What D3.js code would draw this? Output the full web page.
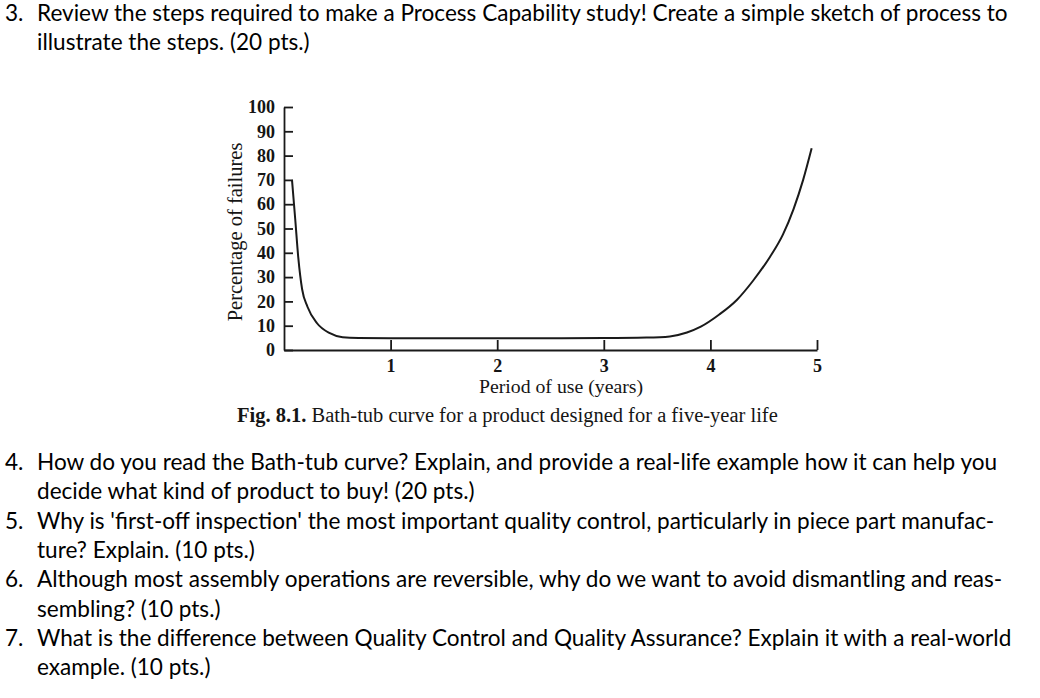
<!DOCTYPE html>
<html lang="en">
<head>
<meta charset="UTF-8">
<script src="https://d3js.org/d3.v7.min.js"></script>
<style>
	body { margin: 0; background: #fff; }
	.serif { font-family: "Liberation Serif", "DejaVu Serif", serif; fill: #151515; }
	.sans { font-family: Lato, "Open Sans", sans-serif; fill: #000; }
</style>
<title>Bath-tub curve</title>
</head>
<body>
<div id="page"></div>
<script>
// chart values
const yTicks = [0, 10, 20, 30, 40, 50, 60, 70, 80, 90, 100];
const xTicks = [1, 2, 3, 4, 5];
const years = [0.075, 0.105, 0.134, 0.17, 0.22, 0.31, 0.43, 0.55, 0.7, 1.0, 2.0, 3.0, 3.4, 3.62, 3.78, 3.91, 4.08, 4.25, 4.4, 4.56, 4.68, 4.78, 4.87, 4.95];
const failures = [70, 54, 38, 25, 17.8, 11, 6.9, 5.2, 4.9, 4.8, 4.8, 4.9, 5.1, 5.6, 7.2, 9.6, 14.5, 20.7, 28.5, 38.4, 47.5, 58, 70, 83];
const yTitle = "Percentage of failures";
const xTitle = "Period of use (years)";
const captionLabel = "Fig. 8.1.";
const captionText = "Bath-tub curve for a product designed for a five-year life";

// question text around the figure
const topNumbers = ["3."];
const topLines = [
	["Review the steps required to make a Process Capability study! Create a simple sketch of process to",
	 "illustrate the steps. (20 pts.)"]
];
const bottomNumbers = ["4.", "5.", "6.", "7."];
const bottomLines = [
	["How do you read the Bath-tub curve? Explain, and provide a real-life example how it can help you",
	 "decide what kind of product to buy! (20 pts.)"],
	["Why is 'first-off inspection' the most important quality control, particularly in piece part manufac-",
	 "ture? Explain. (10 pts.)"],
	["Although most assembly operations are reversible, why do we want to avoid dismantling and reas-",
	 "sembling? (10 pts.)"],
	["What is the difference between Quality Control and Quality Assurance? Explain it with a real-world",
	 "example. (10 pts.)"]
];

const W = 1040, H = 698;
const svg = d3.select("#page").append("svg")
	.attr("width", W)
	.attr("height", H);
svg.append("rect").attr("width", W).attr("height", H).attr("fill", "#fff");

// ---- question text ----
const lineGap = 29.3;
const numX = 5, textX = 37;

// pick a font size so the first full line spans like the original
const probe = svg.append("text").attr("class", "sans").attr("font-size", 20).text(topLines[0][0]);
const fontSize = 20 * 971 / probe.node().getComputedTextLength();
probe.remove();

function block(numbers, lines, firstBaseline) {
	let row = 0;
	numbers.forEach(function(n, i) {
		svg.append("text").attr("class", "sans")
			.attr("x", numX).attr("y", firstBaseline + row * lineGap)
			.attr("font-size", fontSize).text(n);
		lines[i].forEach(function(t) {
			svg.append("text").attr("class", "sans")
				.attr("x", textX).attr("y", firstBaseline + row * lineGap)
				.attr("font-size", fontSize).text(t);
			row++;
		});
	});
}
block(topNumbers, topLines, 21);
block(bottomNumbers, bottomLines, 470);

// ---- the figure ----
const x = d3.scaleLinear().domain([0, 5]).range([284, 817]);
const y = d3.scaleLinear().domain([0, 100]).range([350, 107]);

const yAxis = svg.append("g")
	.attr("transform", "translate(284,0)")
	.call(d3.axisLeft(y).tickValues(yTicks).tickFormat(d3.format("d"))
		.tickSizeInner(-9).tickSizeOuter(0).tickPadding(9));
yAxis.selectAll("text")
	.attr("class", "serif").attr("font-size", 18).attr("font-weight", "bold");

const xAxis = svg.append("g")
	.attr("transform", "translate(0,350)")
	.call(d3.axisBottom(x).tickValues(xTicks).tickFormat(d3.format("d"))
		.tickSizeInner(-10).tickSizeOuter(0).tickPadding(9));
xAxis.selectAll("text")
	.attr("class", "serif").attr("font-size", 18).attr("font-weight", "bold");

svg.selectAll(".domain, .tick line")
	.attr("stroke", "#1a1a1a")
	.attr("stroke-width", 1.8);

const line = d3.line()
	.x(function(d, i) { return x(years[i]); })
	.y(function(d) { return y(d); })
	.curve(d3.curveMonotoneX);

svg.append("path")
	.datum(failures)
	.attr("d", line)
	.attr("fill", "none")
	.attr("stroke", "#1a1a1a")
	.attr("stroke-width", 2);

svg.append("text").attr("class", "serif")
	.attr("transform", "translate(242,232) rotate(-90)")
	.attr("text-anchor", "middle")
	.attr("font-size", 20.5)
	.text(yTitle);

svg.append("text").attr("class", "serif")
	.attr("x", 561).attr("y", 393)
	.attr("text-anchor", "middle")
	.attr("font-size", 19.8)
	.text(xTitle);

const cap = svg.append("text").attr("class", "serif")
	.attr("x", 237).attr("y", 422)
	.attr("font-size", 20.5);
cap.append("tspan").attr("font-weight", "bold").text(captionLabel + " ");
cap.append("tspan").text(captionText);
</script>
</body>
</html>
